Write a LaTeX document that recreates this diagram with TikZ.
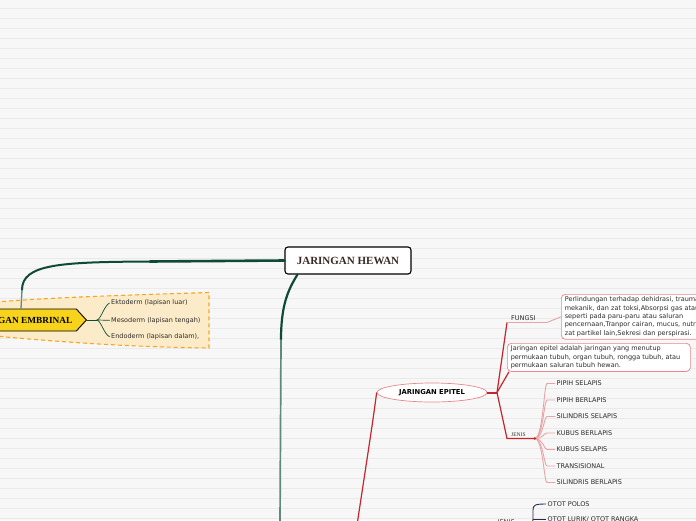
\documentclass[tikz,border=0pt]{standalone}
\usepackage{fontspec}
\setmainfont{Liberation Serif}
\newfontfamily\verd{DejaVu Sans}
\usetikzlibrary{shapes.geometric,shapes.symbols}

\definecolor{paper}{HTML}{F7F7F7}
\definecolor{ruleln}{HTML}{EAEAEA}
\definecolor{hewangreen}{HTML}{0E4A37}
\definecolor{greenpale}{HTML}{5E8A7A}
\definecolor{rootink}{HTML}{3A2A22}
\definecolor{embyellow}{HTML}{F8D31B}
\definecolor{regionfill}{HTML}{FCEBC8}
\definecolor{regiondash}{HTML}{F5A623}
\definecolor{epired}{HTML}{C4262E}
\definecolor{epipink}{HTML}{E9A3A6}
\definecolor{boxpink}{HTML}{E5878B}
\definecolor{navy}{HTML}{1F2D4D}
\definecolor{inkgray}{HTML}{2B2B2B}

\begin{document}
\begin{tikzpicture}[x=1pt,y=-1pt,
  rootbox/.style={draw=black,line width=1.1pt,rounded corners=3pt,fill=white,minimum width=126,minimum height=27,inner sep=0,font=\fontsize{11}{12}\selectfont\bfseries,text=rootink},
  embsig/.style={signal,signal to=east,signal pointer angle=95,draw=black,line width=0.9pt,fill=embyellow,minimum height=22,inner xsep=4,inner ysep=0,font=\fontsize{9.3}{10}\selectfont\bfseries},
  small/.style={font=\verd\fontsize{6.5}{8.4}\selectfont,text=inkgray,inner sep=1.5},
  epitelnode/.style={ellipse,draw=boxpink,line width=0.7pt,fill=white,minimum width=110,minimum height=19,inner sep=0,font=\verd\fontsize{6.8}{7}\selectfont\bfseries},
  infobox/.style={small,draw=boxpink,line width=0.7pt,rounded corners=4pt,fill=white,align=left,inner xsep=3.5,inner ysep=2.5},
  jenislbl/.style={font=\fontsize{5.5}{6}\selectfont,text=inkgray,inner ysep=1.5,inner xsep=4},
  greenline/.style={draw=hewangreen,line cap=round},
  redline/.style={draw=epired,line width=1.2pt},
  pinkline/.style={draw=epipink,line width=0.9pt},
  navyline/.style={draw=navy,line width=0.9pt}
]
\useasboundingbox (0,0) rectangle (696,520);
\clip (0,0) rectangle (696,520);
\fill[paper] (0,0) rectangle (696,520);
\foreach \y in {8,18,...,518}
  \draw[ruleln,line width=0.6pt] (0,\y) -- (696,\y);

% embrional area
\fill[regionfill] (-5,302) .. controls (60,297) and (130,295) .. (209,292.5) -- (209,348) .. controls (130,347) and (60,342) .. (-5,336) -- cycle;
\draw[regiondash,line width=1.1pt,dash pattern=on 4pt off 3pt] (-5,302) .. controls (60,297) and (130,295) .. (209,292.5) -- (209,348) .. controls (130,347) and (60,342) .. (-5,336);

\node[rootbox] (hewan) at (348,260.5) {JARINGAN HEWAN};
\node[embsig,anchor=east] (embrional) at (87,320) {JARINGAN EMBRINAL};
\coordinate (embx) at (21,0);

\draw[greenline,line width=2.6pt] (hewan.west) -- (150,261.5);
\draw[greenline,line width=2pt] (150,261.5) .. controls (60,262) and (22,264) .. (22,290);
\draw[greenline,draw=greenpale,line width=1.3pt] (22,290) -- (embrional.north -| embx);

\draw[greenline,line width=2.2pt] ([xshift=13pt]hewan.south west) .. controls (288,290) and (281,305) .. (281,340);
\draw[greenline,draw=greenpale,line width=1.7pt] (281,340) -- (280,525);

% lapisan
\node[small,anchor=west] (ekto) at (109.5,303) {Ektoderm (lapisan luar)};
\node[small,anchor=west] (meso) at (109.5,320.3) {Mesoderm (lapisan tengah)};
\node[small,anchor=west] (endo) at (109.5,336.7) {Endoderm (lapisan dalam),};
\coordinate (embj) at (97,320);
\draw[greenline,line width=0.9pt] (embrional.east) -- (embj);
\draw[greenline,line width=0.7pt] (embj) .. controls (101,319) and (104,306) .. (ekto.west);
\draw[greenline,line width=0.7pt] (embj) -- (meso.west);
\draw[greenline,line width=0.7pt] (embj) .. controls (101,321) and (104,334) .. (endo.west);

% epitel
\node[epitelnode] (epitel) at (432,392.5) {JARINGAN EPITEL};
\draw[redline] (epitel.west) .. controls (373,420) .. (357,525);
\coordinate (epj) at (497,392.5);
\draw[redline,line width=2pt] (epitel.east) -- (epj);

\node[small,anchor=south west,inner xsep=4] (fungsi) at (507,322.5) {FUNGSI};
\node[infobox,anchor=north west,text width=170] (box1) at (561,294) {Perlindungan terhadap dehidrasi, trauma\\mekanik, dan zat toksi,Absorpsi gas atau\\seperti pada paru-paru atau saluran\\pencernaan,Tranpor cairan, mucus, nutrien,\\zat partikel lain,Sekresi dan perspirasi.};
\node[infobox,anchor=north west,text width=176] (box2) at (507,343) {Jaringan epitel adalah jaringan yang menutup\\permukaan tubuh, organ tubuh, rongga tubuh, atau\\permukaan saluran tubuh hewan.};
\draw[redline] (epj) -- (fungsi.south west);
\draw[pinkline] (fungsi.south west) -- (fungsi.south east) -- ++(7,0) -- (box1.west);
\draw[redline] (epj) -- ([xshift=2pt]box2.south west);

\node[jenislbl,anchor=south west] (jenis) at (507,438.5) {JENIS};
\draw[redline] (epj) -- (jenis.south west) -- (jenis.south east) -- ++(5,0) coordinate (jenisend);
\foreach \t [count=\i] in {PIPIH SELAPIS,PIPIH BERLAPIS,SILINDRIS SELAPIS,KUBUS BERLAPIS,KUBUS SELAPIS,TRANSISIONAL,SILINDRIS BERLAPIS}
{
  \node[small,anchor=west] (jen\i) at (555,{383.5+16.5*(\i-1)}) {\t};
  \draw[pinkline] (jenisend) .. controls (543,438.5) and (544,{383.5+16.5*(\i-1)}) .. ([xshift=-8pt]jen\i.west) -- (jen\i.west);
}
\fill[epired] (jenisend) circle (1.3pt);

% otot
\node[small,anchor=west] (jenisb) at (496,522.5) {JENIS};
\node[small,anchor=west] (polos) at (546,504) {OTOT POLOS};
\node[small,anchor=west] (lurik) at (546,519.5) {OTOT LURIK/ OTOT RANGKA};
\draw[navyline] (jenisb.east) -- (531,522.5) .. controls (533,522) .. (533,516) -- (533,510) .. controls (533,505) and (535,504) .. (polos.west);
\draw[navyline] (533,519.5) -- (lurik.west);
\end{tikzpicture}
\end{document}
